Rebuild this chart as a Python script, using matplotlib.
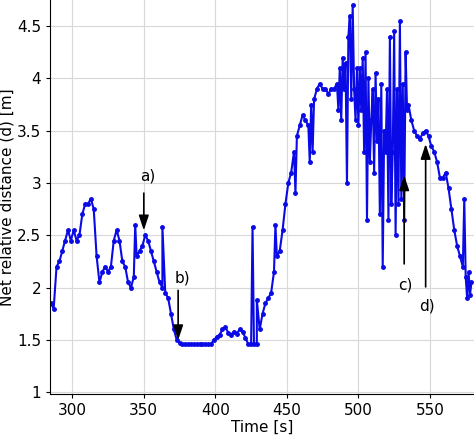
import matplotlib
matplotlib.use("Agg")
import matplotlib.pyplot as plt

base_t = list(range(285, 485, 2))
base_v = [1.85,1.8,2.2,2.25,2.35,2.45,2.55,2.45,2.55,2.45,2.5,2.7,2.8,2.8,2.85,2.75,2.3,2.05,2.15,2.2,
          2.15,2.2,2.45,2.55,2.45,2.25,2.2,2.05,2.0,2.1,2.3,2.35,2.4,2.5,2.45,2.35,2.25,2.15,2.05,2.0,
          1.95,1.9,1.75,1.6,1.5,1.47,1.46,1.46,1.46,1.46,1.46,1.46,1.46,1.46,1.46,1.46,1.46,1.5,1.53,1.55,
          1.6,1.62,1.57,1.55,1.58,1.56,1.6,1.58,1.52,1.46,1.46,1.46,1.46,1.6,1.75,1.85,1.9,1.95,2.15,2.3,
          2.35,2.55,2.8,3.0,3.1,3.3,3.45,3.55,3.65,3.6,3.55,3.75,3.8,3.9,3.95,3.9,3.9,3.85,3.9,3.9]
noisy_t = list(range(485, 536))
noisy_v = [3.95,3.7,4.1,3.6,4.2,3.9,4.15,3.0,4.4,4.6,3.8,4.7,3.9,3.6,4.1,3.55,4.1,3.7,4.2,3.3,
           4.25,2.65,4.0,3.2,3.6,3.9,3.1,4.05,3.4,3.8,2.7,3.95,2.2,3.5,3.3,3.9,2.65,4.4,2.8,3.3,
           4.45,2.5,3.9,2.8,4.55,2.85,3.95,2.65,4.25,3.7,3.75]
tail_t = list(range(537, 581, 2))
tail_v = [3.6,3.5,3.45,3.42,3.48,3.5,3.45,3.35,3.3,3.2,3.05,3.05,3.1,2.95,2.75,2.55,2.4,2.3,2.2,2.1,2.15,2.05]
spike_t = [344, 363, 426, 429, 442, 456, 466, 468, 574, 576, 578]
spike_v = [2.6, 2.58, 2.58, 1.88, 2.6, 2.9, 3.2, 3.3, 2.85, 1.9, 1.93]

pts = sorted(zip(base_t + noisy_t + tail_t + spike_t, base_v + noisy_v + tail_v + spike_v))
t = [p[0] for p in pts]
v = [p[1] for p in pts]

fig = plt.figure(figsize=(4.74, 4.42), dpi=100)
ax = fig.add_axes([0.106, 0.108, 0.894, 0.892])
ax.plot(t, v, '-', color='#0a0ae6', lw=1.5, marker='o', ms=2.5)
ax.set_xlim(284.6, 580.8)
ax.set_ylim(0.98, 4.75)
ax.set_xticks([300, 350, 400, 450, 500, 550])
ax.set_yticks([1, 1.5, 2, 2.5, 3, 3.5, 4, 4.5])
ax.set_yticklabels(['1', '1.5', '2', '2.5', '3', '3.5', '4', '4.5'])
ax.grid(True, color='#d8d8d8', lw=0.8)
ax.set_axisbelow(True)
for s in ['top', 'right']:
    ax.spines[s].set_visible(False)
ax.tick_params(labelsize=11, length=3)
ax.set_xlabel('Time [s]', fontsize=11, labelpad=1)
ax.set_ylabel('Net relative distance (d) [m]', fontsize=11, labelpad=2)

ap = dict(arrowstyle='-|>,head_length=0.9,head_width=0.3', color='black', lw=1.2)
ax.annotate('', xy=(350, 2.52), xytext=(350, 2.93), arrowprops=ap)
ax.text(353, 3.0, 'a)', fontsize=11, ha='center', va='bottom')
ax.annotate('', xy=(374, 1.47), xytext=(374, 2.0), arrowprops=ap)
ax.text(377, 2.02, 'b)', fontsize=11, ha='center', va='bottom')
ax.annotate('', xy=(532, 3.1), xytext=(532, 2.2), arrowprops=ap)
ax.text(533, 2.1, 'c)', fontsize=11, ha='center', va='top')
ax.annotate('', xy=(547, 3.4), xytext=(547, 1.98), arrowprops=ap)
ax.text(548, 1.9, 'd)', fontsize=11, ha='center', va='top')
fig.savefig('out.png', dpi=100)
